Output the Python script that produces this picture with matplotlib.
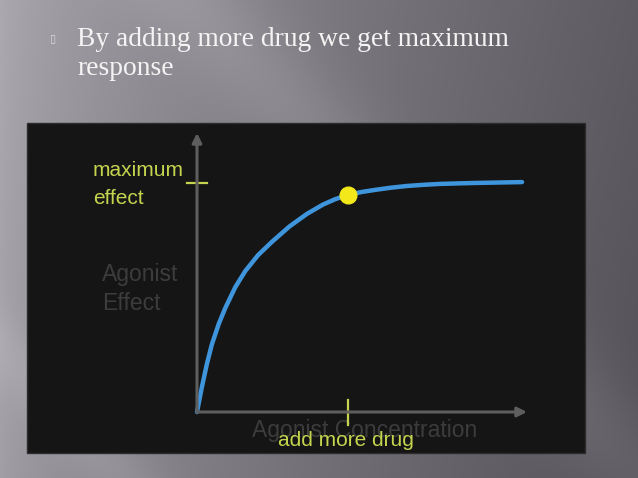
import numpy as np
import matplotlib
matplotlib.use("Agg")
import matplotlib.pyplot as plt
from matplotlib.patches import Rectangle

# ---- data ----
concentration = [0.0, 0.15, 0.30, 0.45, 0.66, 0.86, 1.16, 1.46, 1.85, 2.27, 2.80,
                 3.33, 3.82, 4.20, 4.58, 5.00, 5.40, 5.85, 6.36, 6.85, 7.36,
                 7.85, 8.36, 9.10, 9.85]
effect = [0.0, 11.0, 21.0, 29.5, 38.5, 45.5, 54.5, 61.5, 68.5, 74.3, 81.0,
          86.5, 90.6, 93.0, 94.8, 96.1, 97.0, 97.9, 98.7, 99.2, 99.6,
          99.8, 100.0, 100.2, 100.4]
dose_point = [4.58]
dose_effect = [94.8]
max_effect = 100.0

title_lines = ["By adding more drug we get maximum", "response"]
y_label = ["Agonist", "Effect"]
x_label = "Agonist Concentration"
max_label = ["maximum", "effect"]
dose_label = "add more drug"

W, H = 638, 478
fig = plt.figure(figsize=(W / 100, H / 100), dpi=100)

# ---- slide background ----
bg = fig.add_axes([0, 0, 1, 1])
xx, yy = np.meshgrid(np.arange(W), np.arange(H))
base = 172 - 78 * (xx / W) ** 0.7 - 10 * (yy / H)
band = 14 * np.exp(-((xx - 0.95 * yy - 190) / 70.0) ** 2)
band2 = 10 * np.exp(-((xx - 0.95 * yy + 330) / 40.0) ** 2)
val = base + band + band2
img = np.stack([val, val - 2, val + 4], axis=-1) / 255.0
bg.imshow(np.clip(img, 0, 1), extent=[0, W, H, 0], aspect="auto", interpolation="bilinear")
bg.set_xlim(0, W)
bg.set_ylim(H, 0)
bg.axis("off")

bg.add_patch(Rectangle((27, 123), 558, 330, facecolor="#151515",
                       edgecolor="#2c2c2c", lw=1))

# bullet + title
bg.text(50, 41, "\u25af", fontsize=8, color="#d8d8d8", family="DejaVu Sans",
        va="baseline", ha="left")
for i, line in enumerate(title_lines):
    bg.text(77, 46 + 29 * i, line, fontsize=19.8, color="#f4f4f4",
            family="Liberation Serif", va="baseline", ha="left")

sans = "Liberation Sans"
green = "#c5d44e"
grey_txt = "#3c3c3c"
bg.text(93, 170, max_label[0], fontsize=15, color=green, family=sans, va="center", ha="left")
bg.text(93, 199, max_label[1], fontsize=15, color=green, family=sans, va="center", ha="left")
bg.text(102, 275, y_label[0], fontsize=16.5, color=grey_txt, family=sans, va="center", ha="left")
bg.text(102, 303, y_label[1], fontsize=16.5, color=grey_txt, family=sans, va="center", ha="left")
bg.text(252, 430, x_label, fontsize=16.5, color=grey_txt, family=sans, va="center", ha="left")

# ---- chart axes ----
left, right, bottom, top = 197, 527, 412, 133
ax = fig.add_axes([left / W, (H - bottom) / H, (right - left) / W, (bottom - top) / H])
ax.set_facecolor("none")
ax.axis("off")
ax.set_xlim(0, 10)
ax.set_ylim(0, 279 / 229 * 100)
ymax = ax.get_ylim()[1]

axis_col = "#5e5e5e"
ax.annotate("", xy=(10, 0), xytext=(0, 0),
            arrowprops=dict(arrowstyle="-|>", color=axis_col, lw=2.2, mutation_scale=14,
                            shrinkA=0, shrinkB=0), annotation_clip=False)
ax.annotate("", xy=(0, ymax), xytext=(0, 0),
            arrowprops=dict(arrowstyle="-|>", color=axis_col, lw=2.2, mutation_scale=14,
                            shrinkA=0, shrinkB=0), annotation_clip=False)

ax.plot(concentration, effect, color="#3f95dc", lw=3.2, solid_capstyle="round",
        solid_joinstyle="round", clip_on=False)

# maximum effect tick
ax.plot([-0.3, 0.3], [max_effect, max_effect], color=green, lw=1.6, clip_on=False)
# add more drug tick
ax.plot([dose_point[0], dose_point[0]], [5.2, -5.7], color=green, lw=1.6, clip_on=False)
ax.plot(dose_point, dose_effect, "o", color="#f2e81a", markersize=12, clip_on=False, zorder=5)

bg.text(278, 440, dose_label, fontsize=15, color=green, family=sans, va="center", ha="left",
        zorder=10)

fig.savefig("out.png", dpi=100)
